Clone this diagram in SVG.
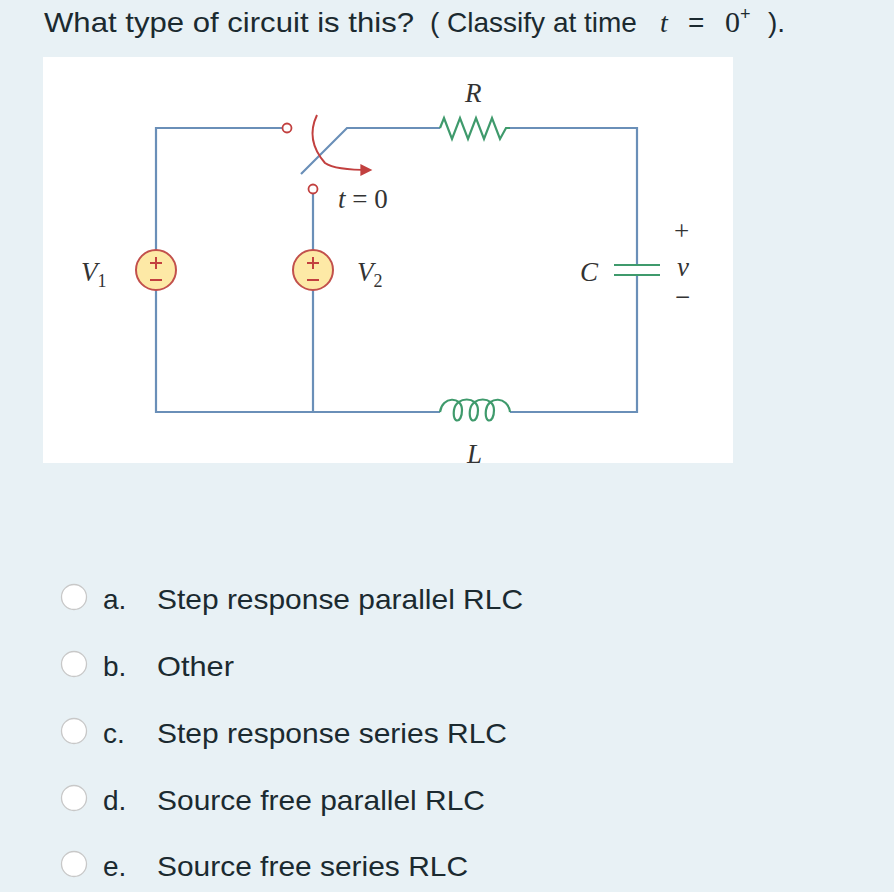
<svg xmlns="http://www.w3.org/2000/svg" width="894" height="892" viewBox="0 0 894 892">
<style>
.w{fill:none;stroke:#6a8fb8;stroke-width:2.2}
.g{fill:none;stroke:#3f9a6c;stroke-width:2.2}
.r{fill:none;stroke:#c2403f;stroke-width:2}
.src{fill:#fde9a6;stroke:#c2504c;stroke-width:2}
.m{font-family:"Liberation Serif",serif;font-style:italic;fill:#333;font-size:27px}
.s{font-family:"Liberation Serif",serif;fill:#333;font-size:27px}
.t{font-family:"Liberation Sans",Arial,sans-serif;fill:#1b2a30;font-size:28px}
.rb{fill:#fff;stroke:#c8c8c8;stroke-width:1.3}
</style>
<defs>
<marker id="ah" viewBox="0 0 10 10" refX="8" refY="5" markerWidth="16" markerHeight="12" markerUnits="userSpaceOnUse" orient="auto"><path d="M0,0 L10,5 L0,10 z" fill="#c2403f"/></marker>
</defs>
<rect width="894" height="892" fill="#e8f1f5"/>
<text class="t" x="44" y="32"><tspan textLength="370" lengthAdjust="spacingAndGlyphs">What type of circuit is this?</tspan><tspan x="430">( Classify at time </tspan><tspan x="660" font-family="Liberation Serif" font-style="italic">t</tspan><tspan x="688">=</tspan><tspan x="725" font-family="Liberation Serif" font-size="30">0</tspan><tspan font-size="18" dy="-12">+</tspan><tspan dy="12" x="768">).</tspan></text>
<rect x="43" y="57" width="690" height="406" fill="#fff"/>
<g id="connectors">
<path class="w" d="M283,128 H156 V250 M156,290 V412 H440 M510,412 H637 V275 M637,265 V128 H510 M440,128 H347 L301,174 M313,193 V250 M313,290 V412"/>
</g>
<g id="switch">
<circle cx="287" cy="128" r="4.5" fill="#fff" stroke="#c2403f" stroke-width="1.8"/>
<circle cx="313" cy="189" r="4.5" fill="#fff" stroke="#c2403f" stroke-width="1.8"/>
<path class="r" d="M317,115 Q305,140 325,163 Q335,170 370,170" marker-end="url(#ah)"/>
<text class="s" x="338" y="208" font-size="25"><tspan font-style="italic">t</tspan> = 0</text>
</g>
<g id="V1">
<circle class="src" cx="156" cy="270" r="20"/>
<path d="M156,257 V269 M150,263 H162 M150,280 H162" stroke="#c2403f" stroke-width="2"/>
<text class="m" x="81" y="281">V<tspan font-style="normal" font-size="18" dy="6">1</tspan></text>
</g>
<g id="V2">
<circle class="src" cx="313" cy="270" r="20"/>
<path d="M313,257 V269 M307,263 H319 M307,280 H319" stroke="#c2403f" stroke-width="2"/>
<text class="m" x="357" y="281">V<tspan font-style="normal" font-size="18" dy="6">2</tspan></text>
</g>
<g id="R">
<path class="g" d="M440,128 L444,118 L452,139 L460,118 L468,139 L476,118 L484,139 L492,118 L500,139 L506,128 H510"/>
<text class="m" x="465" y="102">R</text>
</g>
<g id="C">
<path class="g" d="M614,265 H660 M614,275 H660"/>
<text class="m" x="580" y="281">C</text>
<text class="s" x="674" y="240">+</text>
<text class="m" x="677" y="276" font-size="24">v</text>
<text class="s" x="675" y="306">−</text>
</g>
<g id="L">
<path class="g" d="M440,412 C442,396 462,396 462,410 C462,424 452,424 454,410 C456,396 478,396 478,410 C478,424 468,424 470,410 C472,396 494,396 494,410 C494,424 484,424 486,410 C488,396 508,396 510,412"/>
<text class="m" x="467" y="463">L</text>
</g>
<g id="options">
<circle class="rb" cx="74" cy="597" r="12.5"/><text class="t" x="103" y="609">a.</text><text class="t" x="157" y="609" textLength="366" lengthAdjust="spacingAndGlyphs">Step response parallel RLC</text>
<circle class="rb" cx="74" cy="664" r="12.5"/><text class="t" x="103" y="676">b.</text><text class="t" x="157" y="676" textLength="77" lengthAdjust="spacingAndGlyphs">Other</text>
<circle class="rb" cx="74" cy="731" r="12.5"/><text class="t" x="103" y="743">c.</text><text class="t" x="157" y="743" textLength="350" lengthAdjust="spacingAndGlyphs">Step response series RLC</text>
<circle class="rb" cx="74" cy="798" r="12.5"/><text class="t" x="103" y="810">d.</text><text class="t" x="157" y="810" textLength="328" lengthAdjust="spacingAndGlyphs">Source free parallel RLC</text>
<circle class="rb" cx="74" cy="864" r="12.5"/><text class="t" x="103" y="876">e.</text><text class="t" x="157" y="876" textLength="311" lengthAdjust="spacingAndGlyphs">Source free series RLC</text>
</g>
</svg>
